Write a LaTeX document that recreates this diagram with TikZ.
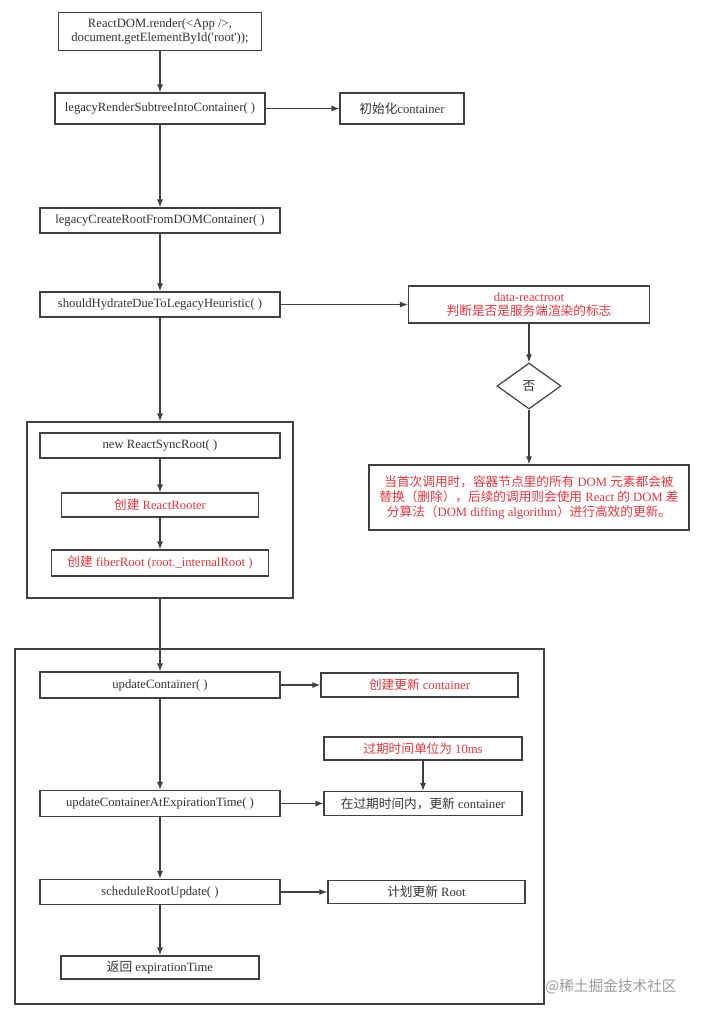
\documentclass[tikz,border=0pt]{standalone}
\usepackage{fontspec}
\setmainfont{Liberation Serif}
\newfontfamily\cjk{Noto Sans CJK SC}
\usetikzlibrary{shapes.geometric,arrows.meta}
\definecolor{linie}{HTML}{404040}
\definecolor{rot}{HTML}{E3343C}
\definecolor{schrift}{HTML}{333333}
\tikzset{
  kasten/.style={draw=linie, line width=0.9pt, text=schrift, font=\fontsize{9.5}{11}\selectfont, inner sep=2pt, align=center},
  rotkasten/.style={kasten, text=rot},
  rahmen/.style={draw=linie, line width=0.9pt},
  pfeil/.style={->, draw=linie, line width=0.9pt},
}
\begin{document}
\begin{tikzpicture}[>={Latex[length=6pt,width=4.5pt]}, x=0.75pt, y=-0.75pt]
\useasboundingbox (0,0) rectangle (701,1019);

% Rahmen um die beiden Gruppen
\node[rahmen, minimum width=199.5pt, minimum height=132pt] (grpA) at (160,510) {};
\node[rahmen, minimum width=396.75pt, minimum height=266.25pt] (grpB) at (279.5,826.5) {};

% obere Kette
\node[kasten, minimum width=152.25pt, minimum height=28.5pt] (render) at (160,31.5) {ReactDOM.render(<App />,\\document.getElementById(\textquotesingle root\textquotesingle));};
\node[kasten, minimum width=157.5pt, minimum height=23.25pt] (legacy) at (160,108.5) {legacyRenderSubtreeIntoContainer( )};
\node[kasten, minimum width=93pt, minimum height=23.25pt] (init) at (402,108.5) {{\cjk 初始化}container};
\node[kasten, minimum width=180pt, minimum height=18.75pt] (create) at (160,220.5) {legacyCreateRootFromDOMContainer( )};
\node[kasten, minimum width=180pt, minimum height=18.75pt] (hydrate) at (160,304.5) {shouldHydrateDueToLegacyHeuristic( )};

% rechter Zweig
\node[rotkasten, minimum width=180.75pt, minimum height=27.75pt] (reactroot) at (529,304.5) {data-reactroot\\{\cjk 判断是否是服务端渲染的标志}};
\node[kasten, diamond, minimum width=48pt, minimum height=34.5pt, inner sep=0pt] (nein) at (529,386) {{\cjk 否}};
\node[rotkasten, minimum width=240pt, minimum height=48.75pt, font=\fontsize{9.5}{11.5}\selectfont] (hinweis) at (529,497.5) {{\cjk 当首次调用时，容器节点里的所有} DOM {\cjk 元素都会被}\\{\cjk 替换（删除），后续的调用则会使用} React {\cjk 的} DOM {\cjk 差}\\{\cjk 分算法（}DOM diffing algorithm{\cjk ）进行高效的更新。}};

% erste Gruppe
\node[kasten, minimum width=180pt, minimum height=18.75pt] (sync) at (160,445.5) {new ReactSyncRoot( )};
\node[rotkasten, minimum width=147.75pt, minimum height=18pt] (rooter) at (160,505) {{\cjk 创建} ReactRooter};
\node[rotkasten, minimum width=162.75pt, minimum height=19.5pt] (fiber) at (160,563) {{\cjk 创建} fiberRoot (root.\_internalRoot )};

% zweite Gruppe
\node[kasten, minimum width=180pt, minimum height=19.5pt] (upd) at (160,685) {updateContainer( )};
\node[rotkasten, minimum width=147.75pt, minimum height=18pt] (updneu) at (419.5,685) {{\cjk 创建更新} container};
\node[rotkasten, minimum width=148.5pt, minimum height=17.25pt] (ablauf) at (423,748.5) {{\cjk 过期时间单位为} 10ms};
\node[kasten, minimum width=148.5pt, minimum height=18pt] (inzeit) at (423,803.5) {{\cjk 在过期时间内，更新} container};
\node[kasten, minimum width=180pt, minimum height=19.5pt] (updexp) at (160,803.5) {updateContainerAtExpirationTime( )};
\node[kasten, minimum width=180pt, minimum height=18.75pt] (sched) at (160,892) {scheduleRootUpdate( )};
\node[kasten, minimum width=147.75pt, minimum height=17.25pt] (plan) at (426.5,892) {{\cjk 计划更新} Root};
\node[kasten, minimum width=148.5pt, minimum height=17.25pt] (zurueck) at (160,967.5) {{\cjk 返回} expirationTime};

% Wasserzeichen
\node[text=black!40, font=\cjk\fontsize{11}{13}\selectfont] (marke) at (611,987) {@稀土掘金技术社区};

% Pfeile Hauptkette
\draw[pfeil] (render) -- (legacy);
\draw[pfeil] (legacy) -- (init);
\draw[pfeil] (legacy) -- (create);
\draw[pfeil] (create) -- (hydrate);
\draw[pfeil] (hydrate) -- (reactroot);
\draw[pfeil] (reactroot) -- (nein);
\draw[pfeil] (nein) -- (hinweis);
\draw[pfeil] (hydrate) -- (grpA);
\draw[pfeil] (sync) -- (rooter);
\draw[pfeil] (rooter) -- (fiber);
\draw[pfeil] (grpA) -- (upd);
\draw[pfeil] (upd) -- (updneu);
\draw[pfeil] (upd) -- (updexp);
\draw[pfeil] (ablauf) -- (inzeit);
\draw[pfeil] (updexp) -- (inzeit);
\draw[pfeil] (updexp) -- (sched);
\draw[pfeil] (sched) -- (plan);
\draw[pfeil] (sched) -- (zurueck);

\end{tikzpicture}
\end{document}
